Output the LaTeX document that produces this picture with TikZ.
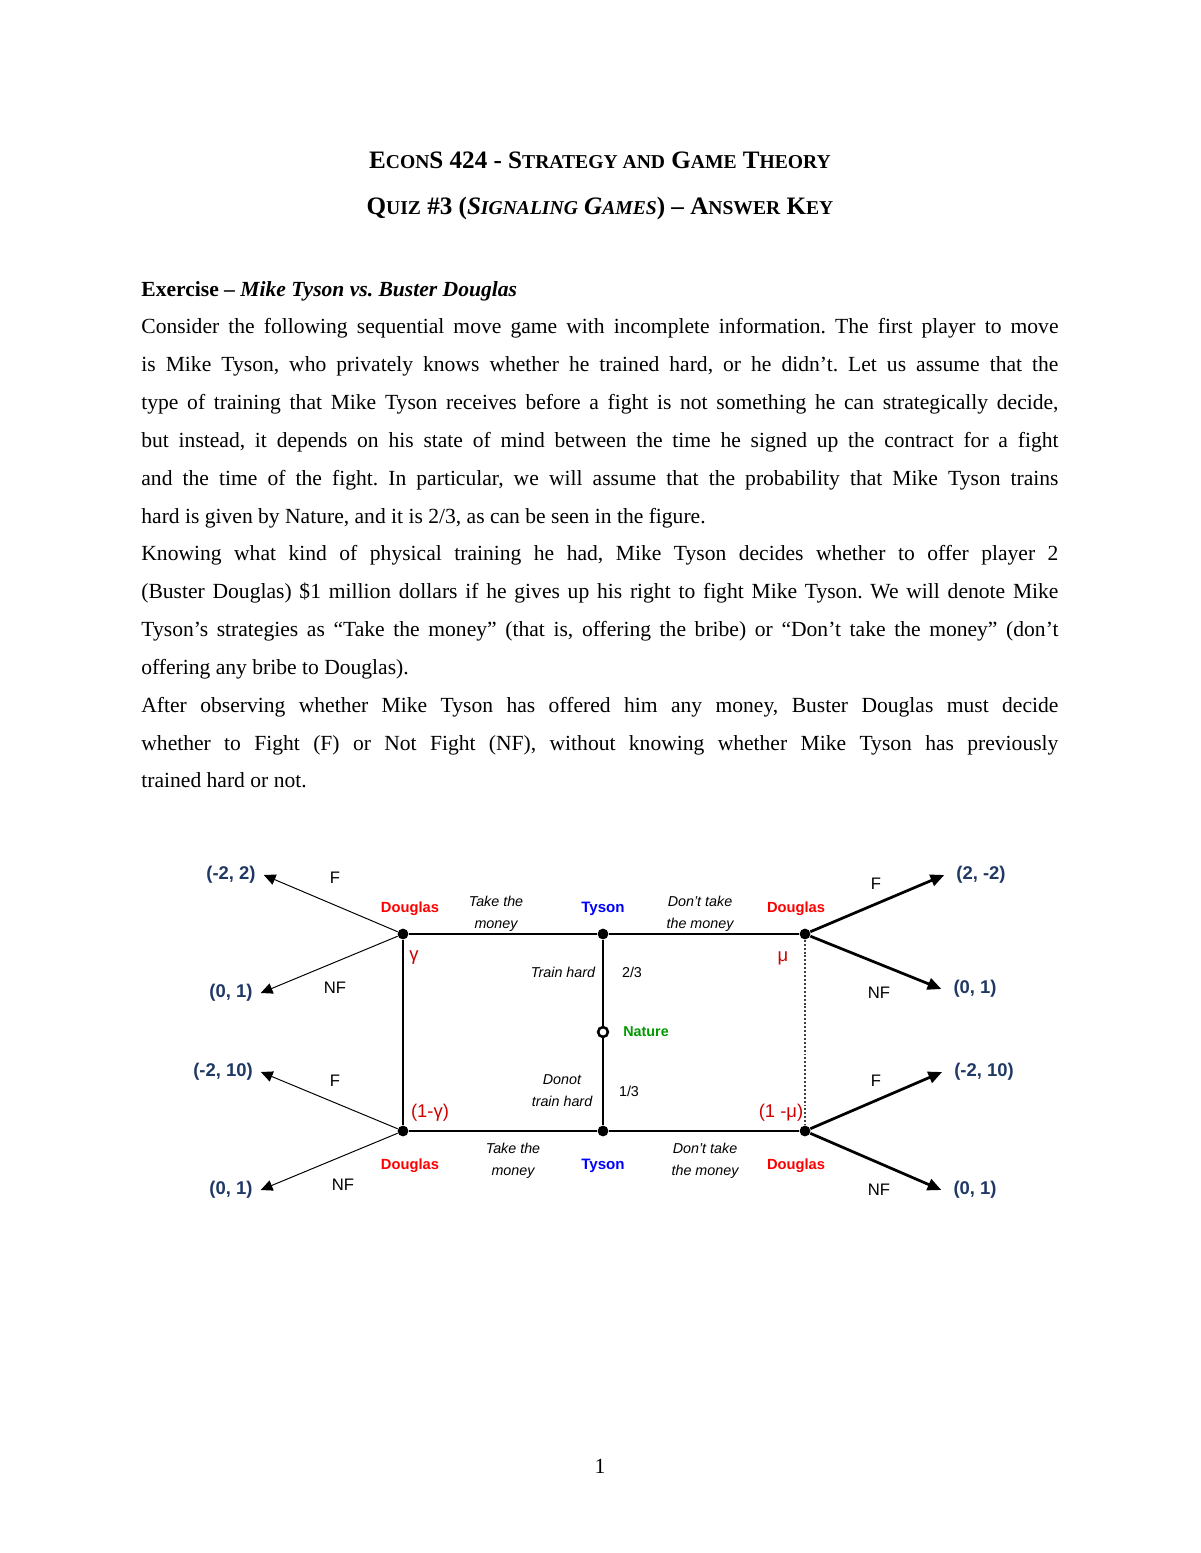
\documentclass[tikz,border=0pt]{standalone}
\usepackage{fontspec}
\setmainfont{Liberation Serif}
\setsansfont{Liberation Sans}
\usepackage{xcolor}
\usetikzlibrary{arrows.meta}
\definecolor{dgred}{HTML}{FF0000}
\definecolor{tyblue}{HTML}{0000FF}
\definecolor{natgreen}{HTML}{009900}
\definecolor{paynavy}{HTML}{203864}
\definecolor{belred}{HTML}{CC0000}
\newcommand{\tsc}[1]{{\fontsize{10}{11}\selectfont\uppercase{#1}}}

\begin{document}
\begin{tikzpicture}[x=0.51pt, y=-0.51pt, font=\sffamily\fontsize{7.5}{8.5}\selectfont,
  dot/.style={circle, fill, inner sep=0pt, minimum size=5.5pt},
  pay/.style={text=paynavy, font=\sffamily\bfseries\fontsize{9.4}{10}\selectfont, inner sep=4pt},
  dg/.style={text=dgred, font=\sffamily\bfseries\fontsize{7.5}{8}\selectfont},
  ty/.style={text=tyblue, font=\sffamily\bfseries\fontsize{7.7}{8}\selectfont},
  act/.style={font=\sffamily\itshape\fontsize{7.3}{11.2}\selectfont, align=center, inner sep=0pt},
  lab/.style={font=\sffamily\fontsize{8.5}{9}\selectfont, inner sep=0pt},
  bel/.style={text=belred, font=\sffamily\fontsize{9.4}{10}\selectfont, inner sep=0pt},
  thinarr/.style={line width=0.5pt, -{Triangle[length=6pt, width=5.5pt]}},
  fatarr/.style={line width=1.4pt, -{Triangle[length=7pt, width=6pt]}},
  body/.style={text width=467.7pt, align=justify, inner sep=0pt,
    font=\rmfamily\fontsize{11}{19.3}\selectfont\frenchspacing}]
\useasboundingbox (0,0) rectangle (1200,1553);
% heading
\node[font=\rmfamily\bfseries\fontsize{12.8}{15}\selectfont] (t1) at (600,160)
  {E\tsc{con}S 424 - S\tsc{trategy and} G\tsc{ame} T\tsc{heory}};
\node[font=\rmfamily\bfseries\fontsize{12.8}{15}\selectfont] (t2) at (600,208)
  {Q\tsc{uiz} \#3 (\textit{S\tsc{ignaling} G\tsc{ames}}) – A\tsc{nswer} K\tsc{ey}};
% text
\node[body, anchor=base west] (txt) at (141,296) {%
\textbf{Exercise – \textit{Mike Tyson vs. Buster Douglas}}\par
Consider the following sequential move game with incomplete information. The first player to move\linebreak
is Mike Tyson, who privately knows whether he trained hard, or he didn’t. Let us assume that the\linebreak
type of training that Mike Tyson receives before a fight is not something he can strategically decide,\linebreak
but instead, it depends on his state of mind between the time he signed up the contract for a fight\linebreak
and the time of the fight. In particular, we will assume that the probability that Mike Tyson trains\linebreak
hard is given by Nature, and it is 2/3, as can be seen in the figure.\par
Knowing what kind of physical training he had, Mike Tyson decides whether to offer player 2\linebreak
(Buster Douglas) \$1 million dollars if he gives up his right to fight Mike Tyson. We will denote Mike\linebreak
Tyson’s strategies as “Take the money” (that is, offering the bribe) or “Don’t take the money” (don’t\linebreak
offering any bribe to Douglas).\par
After observing whether Mike Tyson has offered him any money, Buster Douglas must decide\linebreak
whether to Fight (F) or Not Fight (NF), without knowing whether Mike Tyson has previously\linebreak
trained hard or not.};
% game tree
\node[dot] (dl) at (403,934) {};
\node[dot] (tyt) at (603,934) {};
\node[dot] (dr) at (805,934) {};
\node[dot] (dl2) at (403,1131) {};
\node[dot] (tyb) at (603,1131) {};
\node[dot] (dr2) at (805,1131) {};
\node[circle, draw, line width=1.3pt, fill=white, inner sep=0pt, minimum size=5pt] (nat) at (603,1032) {};
\draw[line width=1pt] (dl) -- (tyt) -- (dr);
\draw[line width=1pt] (dl2) -- (tyb) -- (dr2);
\draw[line width=0.6pt] (dl) -- (dl2);
\draw[line width=0.7pt] (tyt) -- (nat) -- (tyb);
\draw[line width=0.6pt, black!75, dash pattern=on 1pt off 1pt] (dr) -- (dr2);
% payoffs
\node[pay] (p1) at (231,875) {(-2, 2)};
\node[pay] (p2) at (231,993) {(0, 1)};
\node[pay] (p3) at (223,1072) {(-2, 10)};
\node[pay] (p4) at (231,1190) {(0, 1)};
\node[pay, inner sep=6pt] (q1) at (981,875) {(2, -2)};
\node[pay, inner sep=6pt] (q2) at (975,989) {(0, 1)};
\node[pay, inner sep=6pt] (q3) at (984,1072) {(-2, 10)};
\node[pay, inner sep=6pt] (q4) at (975,1190) {(0, 1)};
\draw[thinarr] (dl) -- (p1.east);
\draw[thinarr] (dl) -- (p2.east);
\draw[thinarr] (dl2) -- (p3.east);
\draw[thinarr] (dl2) -- (p4.east);
\draw[fatarr] (dr) -- (q1.west);
\draw[fatarr] (dr) -- (q2.west);
\draw[fatarr] (dr2) -- (q3.west);
\draw[fatarr] (dr2) -- (q4.west);
\node[lab] (f1) at (335,878) {F};
\node[lab] (n1) at (335,988) {NF};
\node[lab] (f2) at (335,1081) {F};
\node[lab] (n2) at (343,1185) {NF};
\node[lab] (f3) at (876,884) {F};
\node[lab] (n3) at (879,993) {NF};
\node[lab] (f4) at (876,1081) {F};
\node[lab] (n4) at (879,1190) {NF};
% players
\node[dg] (dgl) at (410,909) {Douglas};
\node[dg] (dgr) at (796,909) {Douglas};
\node[dg] (dgl2) at (410,1166) {Douglas};
\node[dg] (dgr2) at (796,1166) {Douglas};
\node[ty] (tyl) at (603,909) {Tyson};
\node[ty] (tyl2) at (603,1166) {Tyson};
\node[font=\sffamily\bfseries\fontsize{7.3}{8}\selectfont, text=natgreen, anchor=west, inner sep=0pt] (natl) at (623,1032) {Nature};
% moves
\node[act] (m1) at (496,914) {Take the\\money};
\node[act] (m2) at (700,914) {Don't take\\the money};
\node[act] (m3) at (513,1161) {Take the\\money};
\node[act] (m4) at (705,1161) {Don't take\\the money};
\node[act] (th) at (563,972) {Train hard};
\node[act] (nth) at (562,1091) {Donot\\train hard};
\node[lab, font=\sffamily\fontsize{7.3}{8}\selectfont] (pr1) at (632,972) {2/3};
\node[lab, font=\sffamily\fontsize{7.3}{8}\selectfont] (pr2) at (629,1091) {1/3};
% beliefs
\node[bel] (g1) at (414,958) {γ};
\node[bel] (u1) at (783,958) {μ};
\node[bel] (g2) at (430,1113) {(1-γ)};
\node[bel] (u2) at (781,1113) {(1 -μ)};
% page number
\node[font=\rmfamily\fontsize{11}{12}\selectfont] (pg) at (600,1466) {1};
\end{tikzpicture}
\end{document}
